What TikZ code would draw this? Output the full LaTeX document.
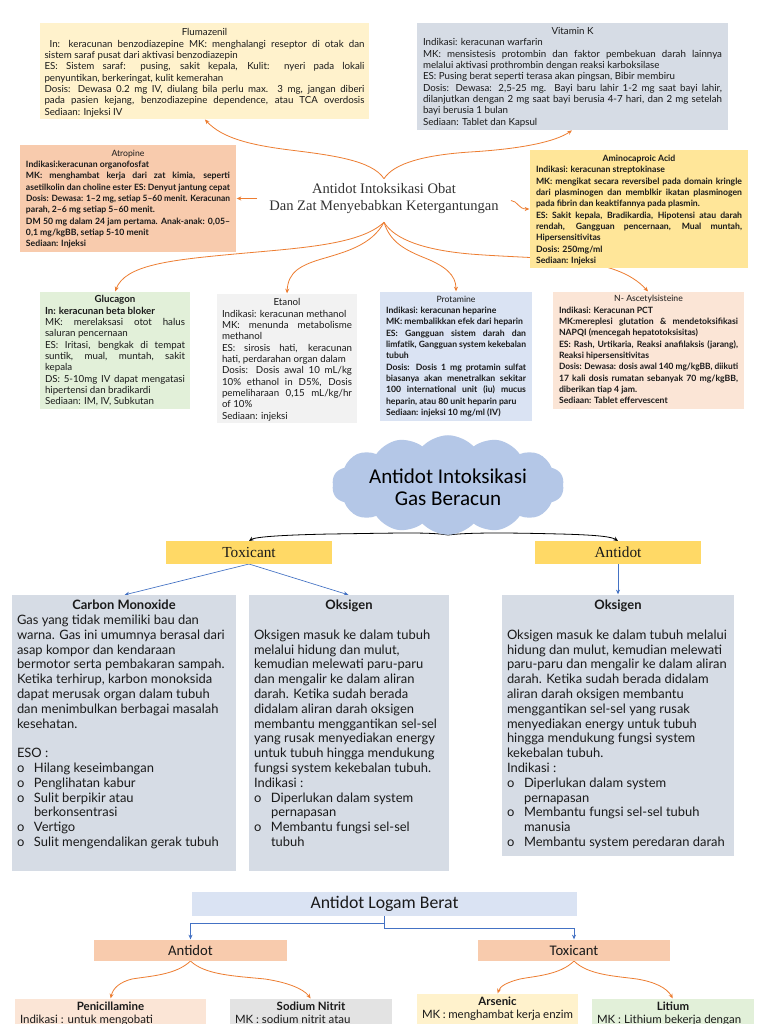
\documentclass[tikz,border=0pt]{standalone}
\usepackage{fontspec}
\usepackage{graphicx}
\usetikzlibrary{arrows.meta,shapes.symbols}
\setmainfont{Lato}
\newfontfamily\calf{Carlito}
\newfontfamily\srf{Liberation Serif}
\definecolor{cFlu}{HTML}{FFF2CC}
\definecolor{cSlate}{HTML}{D6DCE5}
\definecolor{cPeach}{HTML}{F8CBAD}
\definecolor{cAmino}{HTML}{FFE699}
\definecolor{cGreen}{HTML}{E2F0D9}
\definecolor{cGrey}{HTML}{F2F2F2}
\definecolor{cGrey2}{HTML}{E3E3E3}
\definecolor{cBlue}{HTML}{DAE3F3}
\definecolor{cPale}{HTML}{FBE5D6}
\definecolor{cGold}{HTML}{FFD966}
\definecolor{cCloud}{HTML}{B4C7E7}
\definecolor{cOr}{HTML}{ED7D31}
\definecolor{cBl}{HTML}{4472C4}
\definecolor{cInk}{HTML}{1A1A1A}
\pgfdeclarelayer{paper}
\pgfdeclarelayer{lines}
\pgfsetlayers{paper,lines,main}
\tikzset{
  panelbox/.style={inner xsep=#1, inner ysep=0pt, outer sep=0pt, anchor=north west, text=cInk},
  orline/.style={draw=cOr, line width=0.6pt, -{Stealth[length=3.5pt,width=3pt]}, shorten >=0.5pt},
  blline/.style={draw=cBl, line width=0.5pt, -{Stealth[length=3.5pt,width=3pt]}, shorten >=0.5pt},
  bkline/.style={draw=black, line width=0.6pt, -{Stealth[length=3.5pt,width=3pt]}},
  headbox/.style={inner sep=0pt, outer sep=0pt, anchor=north west, text=cInk, align=center},
}
% name, x0, y0, x1, y1, fill, padL(px), padTop(px), content
\newcommand\pnl[9]{%
  \pgfmathsetlengthmacro\pnlw{(#4-#2-2*#7)*0.75pt}%
  \pgfmathsetlengthmacro\pnlh{(#5-#3)*0.75pt}%
  \pgfmathsetlengthmacro\pnlx{#7*0.75pt}%
  \pgfmathsetlengthmacro\pnlt{#8*0.75pt}%
  \node[panelbox=\pnlx, fill=#6] (#1) at (#2,#3) {\parbox[c][\pnlh][t]{\pnlw}{\vspace*{\pnlt}#9}};}
% name, x0, y0, x1, y1, fill, font, text
\newcommand\hdr[8]{%
  \pgfmathsetlengthmacro\pnlw{(#4-#2)*0.75pt}%
  \pgfmathsetlengthmacro\pnlh{(#5-#3)*0.75pt}%
  \node[headbox, fill=#6, minimum width=\pnlw, minimum height=\pnlh, font=#7] (#1) at (#2,#3) {#8};}
\newcommand\J[1]{\sbox0{#1}\ifdim\wd0>\linewidth\resizebox{\linewidth}{\height}{#1}\else\makebox[\linewidth][s]{#1}\fi}
\newcommand\Hd[1]{\makebox[\linewidth][c]{#1}}
\newcommand\Bu[1]{\makebox[12.75pt][l]{o}#1}
\newcommand\Bi[1]{\hspace*{12.75pt}#1}
\newcommand\fTop{\fontsize{7.3}{8.5}\selectfont}
\newcommand\fBold{\fontsize{6.5}{8.5}\selectfont\bfseries}
\newcommand\fMid{\fontsize{9.7}{11.1}\selectfont}
\newcommand\fLow{\fontsize{8.6}{10}\selectfont}
\begin{document}
\begin{tikzpicture}[x=0.75pt,y=-0.75pt]
\begin{pgfonlayer}{paper}
\fill[white] (0,0) rectangle (768,1024);
\end{pgfonlayer}
\useasboundingbox (0,0) rectangle (768,1024);
\clip (0,0) rectangle (768,1024);

% --- top map
\node[inner xsep=9pt, inner ysep=0pt, minimum height=32.25pt, align=center, text=black!80,
      font=\srf\fontsize{10.9}{12.6}\selectfont] (title) at (384,198.5)
  {Antidot Intoksikasi Obat\\Dan Zat Menyebabkan Ketergantungan};

\pnl{flu}{40}{23}{369}{119}{cFlu}{4.5}{5.5}{\fTop
\Hd{Flumazenil}\\
\J{\ In: keracunan benzodiazepine MK: menghalangi reseptor di otak dan}\\
sistem saraf pusat dari aktivasi benzodiazepin\\
\J{ES: Sistem saraf: pusing, sakit kepala, Kulit: nyeri pada lokali}\\
penyuntikan, berkeringat, kulit kemerahan\\
\J{Dosis: Dewasa 0.2 mg IV, diulang bila perlu max. 3 mg, jangan diberi}\\
\J{pada pasien kejang, benzodiazepine dependence, atau TCA overdosis}\\
Sediaan: Injeksi IV}

\pnl{vit}{417}{23}{728}{130}{cSlate}{6}{4.5}{\fTop
\Hd{Vitamin K}\\
\ Indikasi: keracunan warfarin\\
\J{MK: mensistesis protombin dan faktor pembekuan darah lainnya}\\
melalui aktivasi prothrombin dengan reaksi karboksilase\\
ES: Pusing berat seperti terasa akan pingsan, Bibir membiru\\
\J{Dosis: Dewasa: 2,5-25 mg. Bayi baru lahir 1-2 mg saat bayi lahir,}\\
\J{dilanjutkan dengan 2 mg saat bayi berusia 4-7 hari, dan 2 mg setelah}\\
bayi berusia 1 bulan\\
Sediaan: Tablet dan Kapsul}

\pnl{atr}{20}{145}{236}{252}{cPeach}{6}{5}{\fBold
\Hd{\mdseries Atropine}\\
Indikasi:keracunan organofosfat\\
\J{MK: menghambat kerja dari zat kimia, seperti}\\
\J{asetilkolin dan choline ester ES: Denyut jantung cepat}\\
\J{Dosis: Dewasa: 1–2 mg, setiap 5–60 menit. Keracunan}\\
parah, 2–6 mg setiap 5–60 menit.\\
\J{DM 50 mg dalam 24 jam pertama. Anak-anak: 0,05–}\\
0,1 mg/kgBB, setiap 5-10 menit\\
Sediaan: Injeksi}

\pnl{ami}{530}{150}{748}{268}{cAmino}{6}{5}{\fBold
\Hd{Aminocaproic Acid}\\
Indikasi: keracunan streptokinase\\
\J{MK: mengikat secara reversibel pada domain kringle}\\
\J{dari plasminogen dan memblkir ikatan plasminogen}\\
pada fibrin dan keaktifannya pada plasmin.\\
\J{ES: Sakit kepala, Bradikardia, Hipotensi atau darah}\\
\J{rendah, Gangguan pencernaan, Mual muntah,}\\
Hipersensitivitas\\
Dosis: 250mg/ml\\
Sediaan: Injeksi}

\pnl{glu}{40}{292}{190}{409}{cGreen}{5}{3.5}{\fTop
\Hd{\bfseries Glucagon}\\
{\bfseries In: keracunan beta bloker}\\
\J{MK: merelaksasi otot halus}\\
saluran pencernaan\\
\J{ES: Iritasi, bengkak di tempat}\\
\J{suntik, mual, muntah, sakit}\\
kepala\\
\J{DS: 5-10mg IV dapat mengatasi}\\
hipertensi dan bradikardi\\
Sediaan: IM, IV, Subkutan}

\pnl{eta}{217}{294}{357}{423}{cGrey}{5}{4.5}{\fTop
\Hd{Etanol}\\
Indikasi: keracunan methanol\\
\J{MK: menunda metabolisme}\\
methanol\\
\J{ES: sirosis hati, keracunan}\\
hati, perdarahan organ dalam\\
\J{Dosis: Dosis awal 10 mL/kg}\\
\J{10\% ethanol in D5\%, Dosis}\\
\J{pemeliharaan 0,15 mL/kg/hr}\\
of 10\%\\
Sediaan: injeksi}

\pnl{pro}{380}{292}{532}{421}{cBlue}{6}{4}{\fBold
\Hd{\mdseries Protamine}\\
Indikasi: keracunan heparine\\
MK: membalikkan efek dari heparin\\
\J{ES: Gangguan sistem darah dan}\\
\J{limfatik, Gangguan system kekebalan}\\
tubuh\\
\J{Dosis: Dosis 1 mg protamin sulfat}\\
\J{biasanya akan menetralkan sekitar}\\
\J{100 international unit (iu) mucus}\\
heparin, atau 80 unit heparin paru\\
Sediaan: injeksi 10 mg/ml (IV)}

\pnl{nas}{553}{292}{744}{409}{cPale}{6}{3.5}{\fBold
\Hd{\mdseries N- Ascetylsisteine}\\
Indikasi: Keracunan PCT\\
\J{MK:mereplesi glutation \& mendetoksifikasi}\\
NAPQI (mencegah hepatotoksisitas)\\
\J{ES: Rash, Urtikaria, Reaksi anafilaksis (jarang),}\\
Reaksi hipersensitivitas\\
\J{Dosis: Dewasa: dosis awal 140 mg/kgBB, diikuti}\\
\J{17 kali dosis rumatan sebanyak 70 mg/kgBB,}\\
diberikan tiap 4 jam.\\
Sediaan: Tablet effervescent}

% --- gas section
\node[cloud, cloud puffs=14, cloud puff arc=95, aspect=2.8, fill=cCloud, inner sep=0pt,
      minimum width=174pt, minimum height=55pt, align=center, text=black,
      font=\calf\fontsize{15.8}{16.5}\selectfont] (cld) at (448,485)
  {\rule{0pt}{14pt}Antidot Intoksikasi\\Gas Beracun};
\hdr{gtox}{166}{541}{332}{564}{cGold}{\srf\fontsize{11.5}{13}\selectfont}{Toxicant}
\hdr{gant}{535}{541}{701}{564}{cGold}{\srf\fontsize{11.5}{13}\selectfont}{Antidot}

\pnl{co}{12}{595}{236}{871}{cSlate}{5}{5}{\fMid
\Hd{\bfseries Carbon Monoxide}\\
Gas yang tidak memiliki bau dan\\
warna. Gas ini umumnya berasal dari\\
asap kompor dan kendaraan\\
bermotor serta pembakaran sampah.\\
Ketika terhirup, karbon monoksida\\
dapat merusak organ dalam tubuh\\
dan menimbulkan berbagai masalah\\
kesehatan.\\
\mbox{}\\
ESO :\\
\Bu{Hilang keseimbangan}\\
\Bu{Penglihatan kabur}\\
\Bu{Sulit berpikir atau}\\
\Bi{berkonsentrasi}\\
\Bu{Vertigo}\\
\Bu{Sulit mengendalikan gerak tubuh}}

\pnl{ok1}{249}{595}{449}{871}{cSlate}{5}{5}{\fMid
\Hd{\bfseries Oksigen}\\
\mbox{}\\
Oksigen masuk ke dalam tubuh\\
melalui hidung dan mulut,\\
kemudian melewati paru-paru\\
dan mengalir ke dalam aliran\\
darah. Ketika sudah berada\\
didalam aliran darah oksigen\\
membantu menggantikan sel-sel\\
yang rusak menyediakan energy\\
untuk tubuh hingga mendukung\\
fungsi system kekebalan tubuh.\\
Indikasi :\\
\Bu{Diperlukan dalam system}\\
\Bi{pernapasan}\\
\Bu{Membantu fungsi sel-sel}\\
\Bi{tubuh}}

\pnl{ok2}{502}{595}{734}{856}{cSlate}{5}{5}{\fMid
\Hd{\bfseries Oksigen}\\
\mbox{}\\
Oksigen masuk ke dalam tubuh melalui\\
hidung dan mulut, kemudian melewati\\
paru-paru dan mengalir ke dalam aliran\\
darah. Ketika sudah berada didalam\\
aliran darah oksigen membantu\\
menggantikan sel-sel yang rusak\\
menyediakan energy untuk tubuh\\
hingga mendukung fungsi system\\
kekebalan tubuh.\\
Indikasi :\\
\Bu{Diperlukan dalam system}\\
\Bi{pernapasan}\\
\Bu{Membantu fungsi sel-sel tubuh}\\
\Bi{manusia}\\
\Bu{Membantu system peredaran darah}}

% --- heavy metal section
\hdr{lgm}{192}{892}{577}{916}{cBlue}{\calf\fontsize{13.3}{14}\selectfont}{Antidot Logam Berat}
\hdr{lant}{94}{940}{287}{961}{cPeach}{\calf\fontsize{11}{13}\selectfont}{Antidot}
\hdr{ltox}{478}{940}{670}{961}{cPeach}{\calf\fontsize{11}{13}\selectfont}{Toxicant}

\pnl{pen}{15}{999}{206}{1024}{cPale}{5}{2.5}{\fLow
\Hd{\bfseries Penicillamine}\\
Indikasi : untuk mengobati}
\pnl{sod}{230}{999}{392}{1024}{cGrey2}{5}{2.5}{\fLow
\Hd{\bfseries Sodium Nitrit}\\
MK : sodium nitrit atau}
\pnl{ars}{417}{994}{578}{1024}{cFlu}{5}{2.5}{\fLow
\Hd{\bfseries Arsenic}\\
MK : menghambat kerja enzim}
\pnl{lit}{592}{999}{754}{1024}{cGreen}{5}{2.5}{\fLow
\Hd{\bfseries Litium}\\
MK : Lithium bekerja dengan}

\begin{pgfonlayer}{lines}
\draw[orline] ([yshift=-1.5pt]title.north) .. controls (372,160) and (330,155) .. (290,150) .. controls (250,145) and (222,138) .. (flu.south);
\draw[orline] ([yshift=-1.5pt]title.north) .. controls (394,163) and (425,155) .. (470,152) .. controls (520,149) and (555,142) .. (vit.south);
\draw[orline] (title.west) -- (atr.east);
\draw[orline] ([yshift=-1.5pt]title.east) .. controls (518,201) and (518,209) .. (ami.west);
\draw[orline] ([yshift=-1.5pt]title.south) .. controls (372,245) and (345,252) .. (325,258) .. controls (300,265) and (288,272) .. (eta.north);
\draw[orline] ([yshift=-1.5pt]title.south) .. controls (390,242) and (405,250) .. (425,258) .. controls (445,266) and (456,275) .. (pro.north);
\draw[orline] ([yshift=-1.5pt]title.south) .. controls (360,245) and (300,248) .. (235,254) .. controls (170,260) and (125,265) .. (glu.north);
\draw[orline] ([yshift=-1.5pt]title.south) .. controls (395,240) and (425,250) .. (470,254) .. controls (545,260) and (615,255) .. (nas.north);

\draw[bkline] (cld.south) .. controls (430,532) and (400,533) .. (330,534) .. controls (280,535) and (255,537) .. (gtox.north);
\draw[bkline] (cld.south) .. controls (470,532) and (520,533) .. (560,534) .. controls (600,535) and (612,537) .. (gant.north);
\draw[blline] (gtox.south) -- (co.north);
\draw[blline] (gtox.south) -- (ok1.north);
\draw[blline] (gant.south) -- (ok2.north);

\draw[blline] (lgm.south) -- ++(0,7) -| (lant.north);
\draw[blline] (lgm.south) -- ++(0,12) -| (ltox.north);
\draw[orline] (lant.south) .. controls (176,975) and (150,976) .. (132,979) .. controls (120,982) and (113,988) .. (pen.north);
\draw[orline] (lant.south) .. controls (205,975) and (235,976) .. (265,979) .. controls (285,982) and (303,988) .. (sod.north);
\draw[orline] (ltox.south) .. controls (560,975) and (535,976) .. (520,979) .. controls (508,982) and (500,986) .. (ars.north);
\draw[orline] (ltox.south) .. controls (588,975) and (615,976) .. (637,979) .. controls (655,982) and (667,988) .. (lit.north);
\end{pgfonlayer}
\end{tikzpicture}
\end{document}
